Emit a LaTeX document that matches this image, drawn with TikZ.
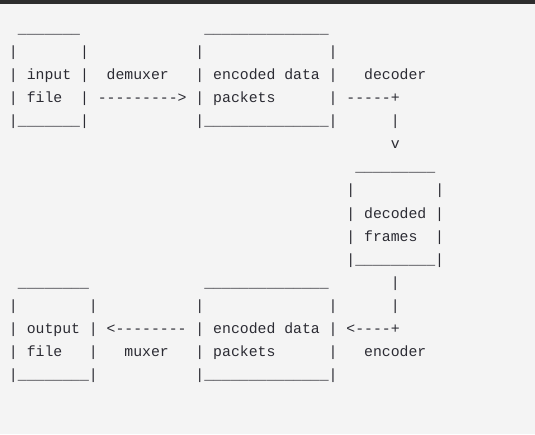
\documentclass[tikz,border=0pt]{standalone}
\usepackage{fontspec}
\setmonofont{Liberation Mono}
\usepackage{xcolor}
\usetikzlibrary{positioning}
\definecolor{ink}{HTML}{2B2B33}
\definecolor{paper}{HTML}{F4F4F4}
\definecolor{topbar}{HTML}{2D2D2D}
\tikzset{
  ascii/.style={anchor=base west, inner sep=0pt, outer sep=0pt, text=ink,
    font=\ttfamily\fontsize{14.8pt}{23.09pt}\selectfont}
}

\begin{document}
\begin{tikzpicture}[x=8.88pt, y=-23.09pt]
	% page and top bar
	\fill[paper] (-9pt,33.3pt) rectangle (526pt,-400.7pt);
	\fill[topbar] (-9pt,33.3pt) rectangle (526pt,29.8pt);
	
	% input file
	\node[ascii] (in0) at (1,0) {\_\_\_\_\_\_\_};
	\node[ascii] (in1) at (0,1) {|\ \ \ \ \ \ \ |};
	\node[ascii] (in2) at (0,2) {| input |};
	\node[ascii] (in3) at (0,3) {| file\ \ |};
	\node[ascii] (in4) at (0,4) {|\_\_\_\_\_\_\_|};
	
	% demuxer
	\node[ascii] (dmx) at (11,2) {demuxer};
	\node[ascii] (dmxarrow) at (10,3) {--------->};
	
	% encoded data packets (top)
	\node[ascii] (enc0) at (22,0) {\_\_\_\_\_\_\_\_\_\_\_\_\_\_};
	\node[ascii] (enc1) at (21,1) {|\ \ \ \ \ \ \ \ \ \ \ \ \ \ |};
	\node[ascii] (enc2) at (21,2) {| encoded data |};
	\node[ascii] (enc3) at (21,3) {| packets\ \ \ \ \ \ |};
	\node[ascii] (enc4) at (21,4) {|\_\_\_\_\_\_\_\_\_\_\_\_\_\_|};
	
	% decoder
	\node[ascii] (dec) at (40,2) {decoder};
	\node[ascii] (decline) at (38,3) {-----+};
	\node[ascii] (decbar) at (43,4) {|};
	\node[ascii] (decv) at (43,5) {v};
	
	% decoded frames
	\node[ascii] (frm0) at (39,6) {\_\_\_\_\_\_\_\_\_};
	\node[ascii] (frm1) at (38,7) {|\ \ \ \ \ \ \ \ \ |};
	\node[ascii] (frm2) at (38,8) {| decoded |};
	\node[ascii] (frm3) at (38,9) {| frames\ \ |};
	\node[ascii] (frm4) at (38,10) {|\_\_\_\_\_\_\_\_\_|};
	
	% encoder
	\node[ascii] (encbar1) at (43,11) {|};
	\node[ascii] (encbar2) at (43,12) {|};
	\node[ascii] (encline) at (38,13) {<----+};
	\node[ascii] (encoder) at (40,14) {encoder};
	
	% encoded data packets (bottom)
	\node[ascii] (pk0) at (22,11) {\_\_\_\_\_\_\_\_\_\_\_\_\_\_};
	\node[ascii] (pk1) at (21,12) {|\ \ \ \ \ \ \ \ \ \ \ \ \ \ |};
	\node[ascii] (pk2) at (21,13) {| encoded data |};
	\node[ascii] (pk3) at (21,14) {| packets\ \ \ \ \ \ |};
	\node[ascii] (pk4) at (21,15) {|\_\_\_\_\_\_\_\_\_\_\_\_\_\_|};
	
	% muxer
	\node[ascii] (muxarrow) at (11,13) {<--------};
	\node[ascii] (mux) at (13,14) {muxer};
	
	% output file
	\node[ascii] (out0) at (1,11) {\_\_\_\_\_\_\_\_};
	\node[ascii] (out1) at (0,12) {|\ \ \ \ \ \ \ \ |};
	\node[ascii] (out2) at (0,13) {| output |};
	\node[ascii] (out3) at (0,14) {| file\ \ \ |};
	\node[ascii] (out4) at (0,15) {|\_\_\_\_\_\_\_\_|};
\end{tikzpicture}
\end{document}
